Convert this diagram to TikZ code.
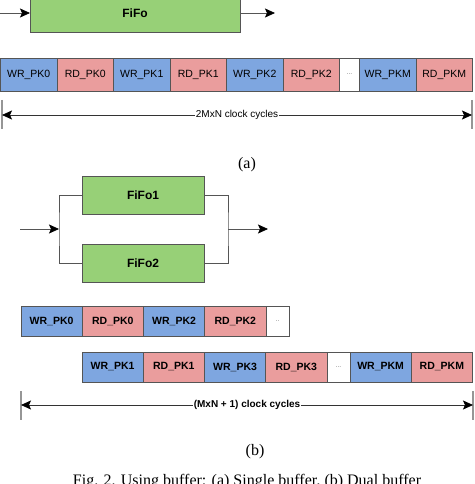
\documentclass[tikz,border=0pt]{standalone}
\usepackage{fontspec}
\setmainfont{Liberation Serif}
\setsansfont{Liberation Sans}
\usetikzlibrary{arrows.meta,positioning}
\definecolor{fifogreen}{RGB}{151,208,119}
\definecolor{wrblue}{RGB}{126,166,224}
\definecolor{rdred}{RGB}{234,157,157}
\definecolor{edge}{RGB}{85,85,85}
\definecolor{tickgray}{RGB}{150,150,150}

\begin{document}
\begin{tikzpicture}[
  x=1pt,y=-1pt,
  fifo/.style={rectangle,draw=edge,line width=0.8pt,fill=fifogreen,inner sep=0pt,outer sep=0pt,font=\sffamily\bfseries\fontsize{12}{14}\selectfont},
  cell/.style={rectangle,draw=edge,line width=0.8pt,inner sep=0pt,outer sep=0pt,anchor=west,font=\sffamily\fontsize{10.5}{12}\selectfont},
  wr/.style={cell,fill=wrblue,minimum width=56.5pt,minimum height=33pt},
  rd/.style={cell,fill=rdred,minimum width=56.5pt,minimum height=33pt},
  gap/.style={cell,fill=white,minimum width=20pt,minimum height=33pt,font=\sffamily\fontsize{7}{8}\selectfont,text=gray},
  wrb/.style={wr,minimum width=61.25pt,minimum height=30pt,font=\sffamily\bfseries\fontsize{10.5}{12}\selectfont},
  rdb/.style={rd,minimum width=61.25pt,minimum height=30pt,font=\sffamily\bfseries\fontsize{10.5}{12}\selectfont},
  gapb/.style={gap,minimum width=23pt,minimum height=30pt},
  line/.style={draw=edge,line width=0.8pt},
  arrow/.style={line,-{Stealth[length=10pt,width=9pt,inset=2pt,black]}},
  dim/.style={draw=black!80,line width=0.8pt,{Stealth[length=10pt,width=9pt,inset=2pt,black]}-{Stealth[length=10pt,width=9pt,inset=2pt,black]}},
  tick/.style={draw=tickgray,line width=2pt},
  dimlbl/.style={fill=white,inner sep=1pt,font=\sffamily\fontsize{10}{12}\selectfont},
  sub/.style={font=\fontsize{16}{18}\selectfont}
]
\useasboundingbox (0,0) rectangle (474,484);
\clip (0,0) rectangle (474,484);

% (a) single buffer
\node[fifo,minimum width=210pt,minimum height=38pt] (fifo) at (135,13) {FiFo};
\coordinate (ina) at (0,13);
\coordinate (outa) at (275,13);
\draw[arrow] (ina) -- (fifo);
\draw[arrow] (fifo) -- (outa);

\node[wr] (a1) at (0.5,74.5) {WR\_PK0};
\node[rd, right=0pt of a1] (a2) {RD\_PK0};
\node[wr, right=0pt of a2] (a3) {WR\_PK1};
\node[rd, right=0pt of a3] (a4) {RD\_PK1};
\node[wr, right=0pt of a4] (a5) {WR\_PK2};
\node[rd, right=0pt of a5] (a6) {RD\_PK2};
\node[gap, right=0pt of a6] (a7) {...};
\node[wr, right=0pt of a7] (a8) {WR\_PKM};
\node[rd, right=0pt of a8] (a9) {RD\_PKM};

\coordinate (dla) at (2,115);
\coordinate (dra) at (472,115);
\draw[tick] ([yshift=15pt]dla) -- ([yshift=-14pt]dla);
\draw[tick] ([yshift=15pt]dra) -- ([yshift=-14pt]dra);
\draw[dim] (dla) -- node[dimlbl] (cyca) {2MxN clock cycles} (dra);

\node[sub] (capa) at (247,165) {(a)};

% (b) dual buffer
\node[fifo,minimum width=122pt,minimum height=38pt] (fifo1) at (143,195) {FiFo1};
\node[fifo,minimum width=122pt,minimum height=38pt] (fifo2) at (143,263.5) {FiFo2};
\coordinate (split) at (59,229);
\coordinate (merge) at (228,229);
\coordinate (inb) at (20,229);
\coordinate (outb) at (268,229);
\draw[line] (fifo1.west) -| (split) |- (fifo2.west);
\draw[line] (fifo1.east) -| (merge) |- (fifo2.east);
\draw[arrow] (inb) -- (split);
\draw[arrow] (merge) -- (outb);

\node[wrb] (b1) at (21,321) {WR\_PK0};
\node[rdb, right=0pt of b1] (b2) {RD\_PK0};
\node[wrb, right=0pt of b2] (b3) {WR\_PK2};
\node[rdb, right=0pt of b3] (b4) {RD\_PK2};
\node[gapb, right=0pt of b4] (b5) {..};

\node[wrb] (c1) at (82,367) {WR\_PK1};
\node[rdb, right=0pt of c1] (c2) {RD\_PK1};
\node[wrb, right=0pt of c2] (c3) {WR\_PK3};
\node[rdb, right=0pt of c3] (c4) {RD\_PK3};
\node[gapb, right=0pt of c4] (c5) {...};
\node[wrb, right=0pt of c5] (c6) {WR\_PKM};
\node[rdb, right=0pt of c6] (c7) {RD\_PKM};

\coordinate (dlb) at (21,405);
\coordinate (drb) at (473,405);
\draw[tick] ([yshift=14pt]dlb) -- ([yshift=-15pt]dlb);
\draw[tick] ([yshift=14pt]drb) -- ([yshift=-15pt]drb);
\draw[dim] (dlb) -- node[dimlbl,font=\sffamily\bfseries\fontsize{10}{12}\selectfont] (cycb) {(MxN + 1) clock cycles} (drb);

\node[sub] (capb) at (255,452) {(b)};
\node[sub,anchor=base] (fig) at (247,485) {Fig. 2. Using buffer: (a) Single buffer, (b) Dual buffer};
\end{tikzpicture}
\end{document}
